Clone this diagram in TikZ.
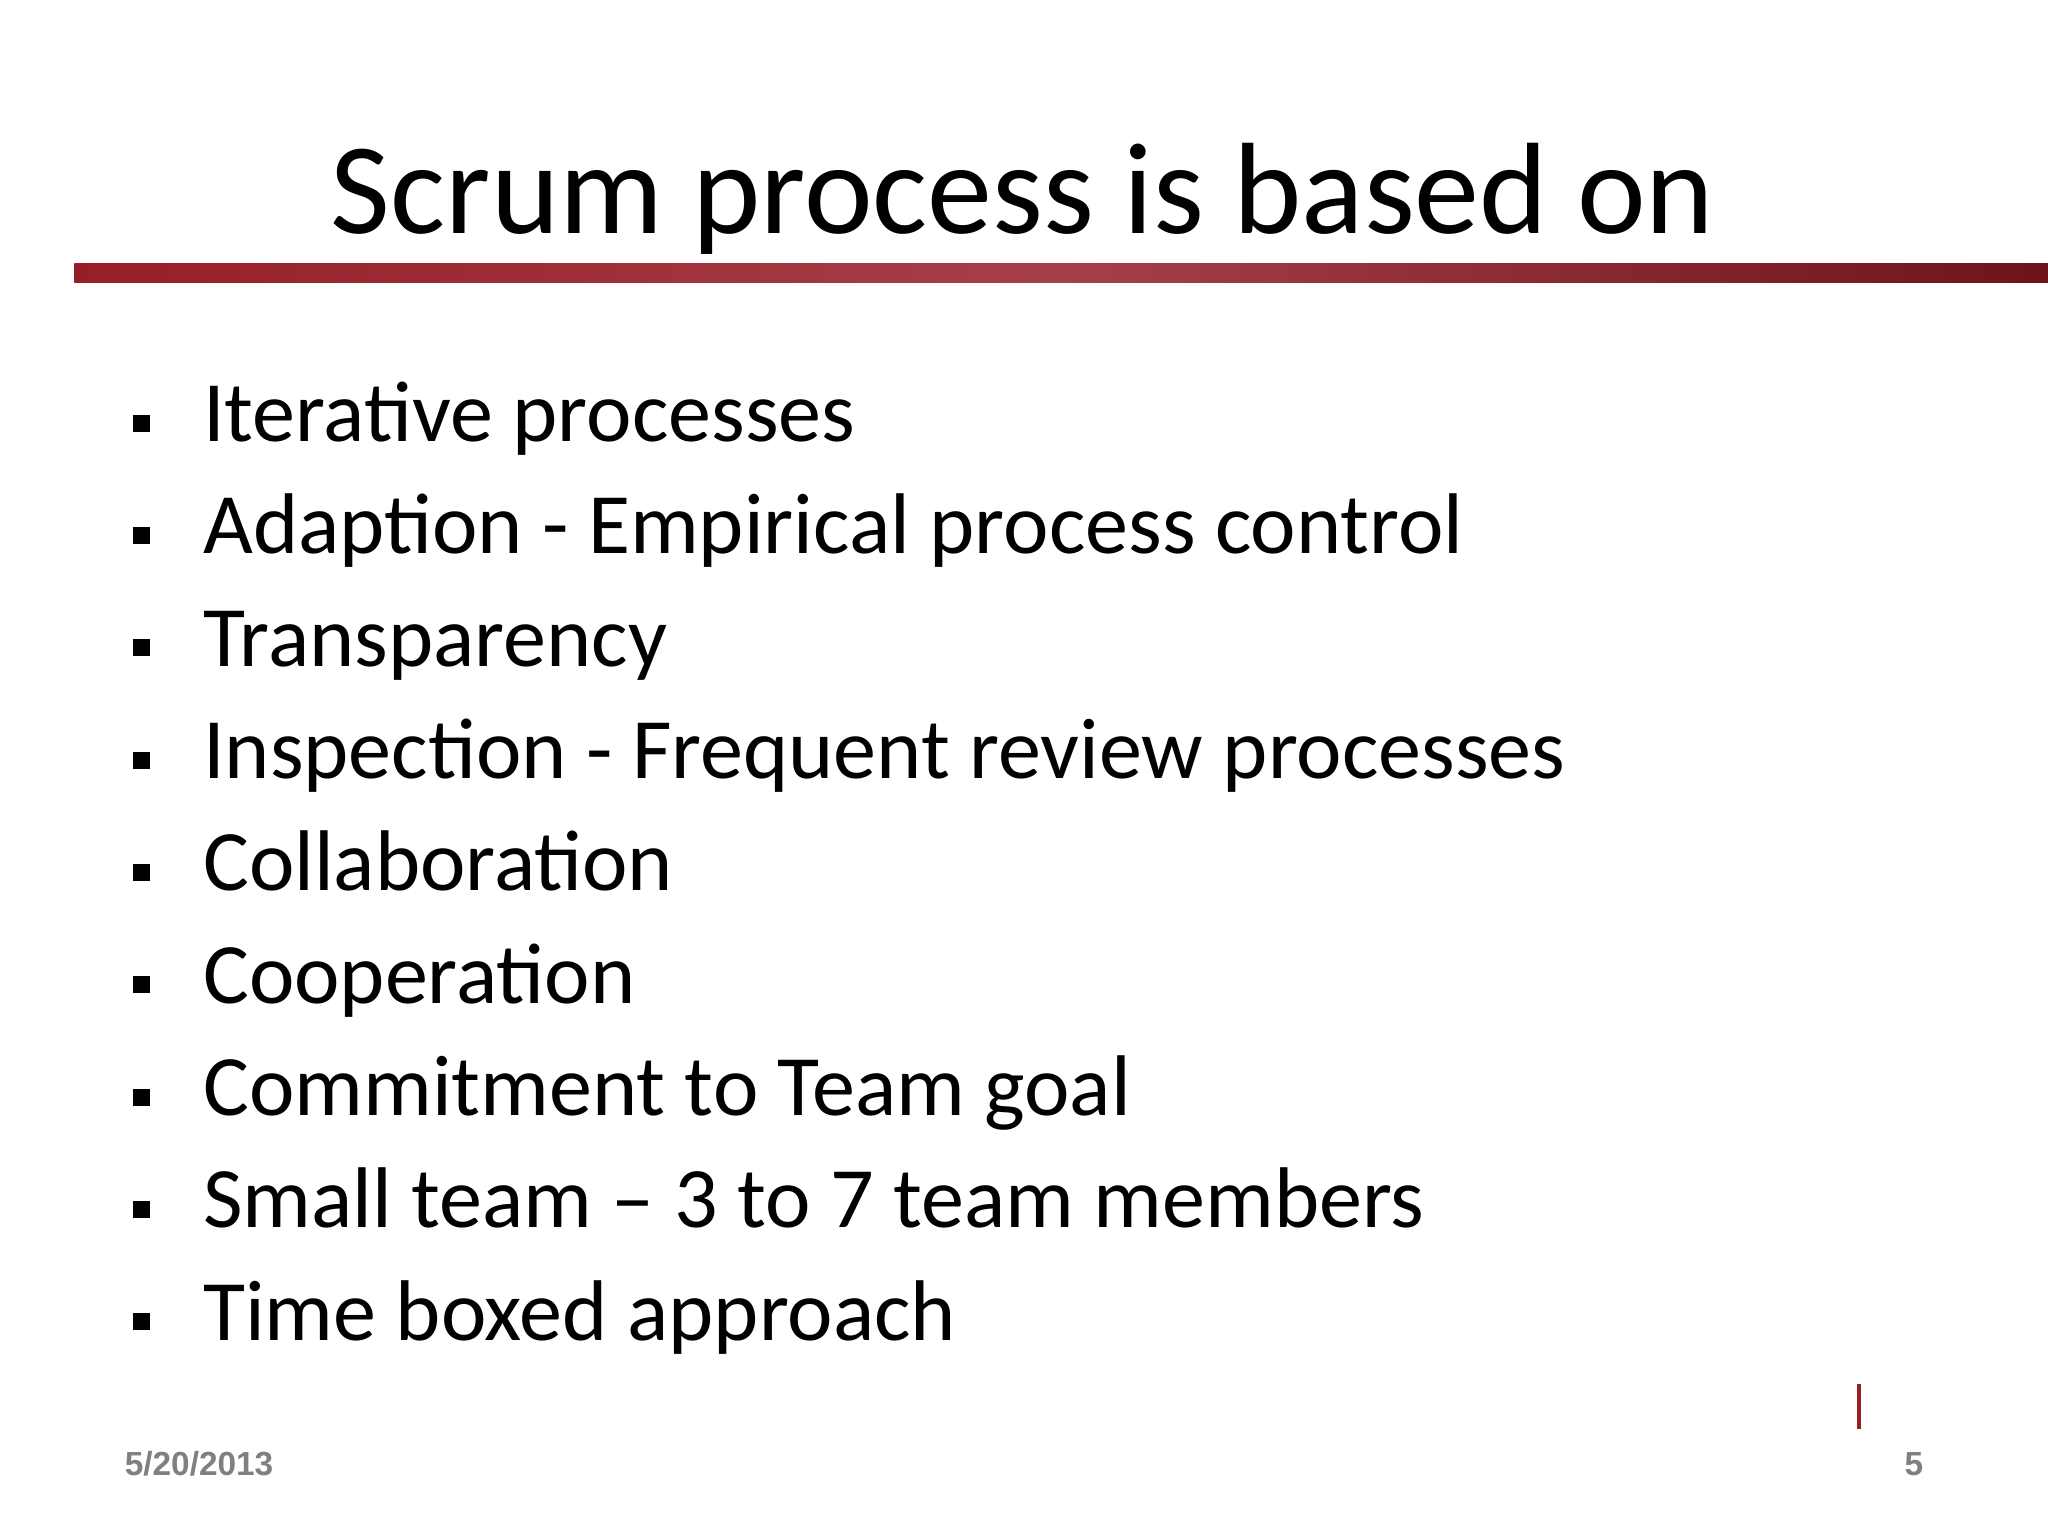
\documentclass[tikz,border=0pt]{standalone}
\usepackage{fontspec}
\setmainfont{Carlito}
\newfontfamily\footfont{Liberation Sans}
\usetikzlibrary{positioning}
\definecolor{barred}{RGB}{150,30,40}
\definecolor{bardark}{RGB}{110,20,25}
\definecolor{footgray}{RGB}{128,128,128}

\begin{document}
\begin{tikzpicture}[x=0.01306cm,y=-0.01306cm,
	itemtext/.style={anchor=base west,inner sep=0pt,font=\fontsize{24.5}{28}\selectfont},
	bulletbox/.style={fill=black,minimum size=0.17cm,inner sep=0pt},
	foottext/.style={inner sep=0pt,text=footgray,font=\footfont\bfseries\fontsize{9.5}{11}\selectfont}]
	\useasboundingbox (0,0) rectangle (1568,1176);
	\fill[white] (0,0) rectangle (1568,1176);
	% title and bar
	\node (title) [anchor=base,inner sep=0pt,font=\fontsize{37}{42}\selectfont] at (783,179) {Scrum process is based on};
	\shade[left color=barred,right color=bardark,middle color=barred!85!white] (57,202) rectangle (1568,216);
	% items
	\foreach \txt [count=\i] in {Iterative processes,
		Adaption - Empirical process control,
		Transparency,
		Inspection - Frequent review processes,
		Collaboration,
		Cooperation,
		Commitment to Team goal,
		Small team -- 3 to 7 team members,
		Time boxed approach}
	{
		\node (item\i) [itemtext] at (155,{252+86*\i}) {\txt};
		\node (bullet\i) [bulletbox] at (108,{252+86*\i-14}) {};
	}
	% footer
	\node (date) [foottext,anchor=base west] at (95,1130) {5/20/2013};
	\node (page) [foottext,anchor=base east] at (1473,1130) {5};
	\draw[barred,line width=1.2pt] (1423,1060) -- (1423,1094);
\end{tikzpicture}
\end{document}
